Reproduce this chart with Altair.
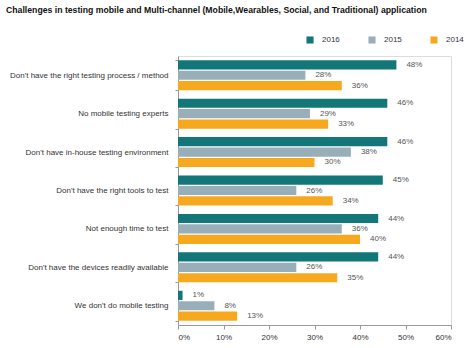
import altair as alt
import pandas as pd

categories = [
    "Don't have the right testing process / method",
    "No mobile testing experts",
    "Don't have in-house testing environment",
    "Don't have the right tools to test",
    "Not enough time to test",
    "Don't have the devices readily available",
    "We don't do mobile testing",
]
years = ["2016", "2015", "2014"]
v2016 = [48, 46, 46, 45, 44, 44, 1]
v2015 = [28, 29, 38, 26, 36, 26, 8]
v2014 = [36, 33, 30, 34, 40, 35, 13]
colors = ["#13777a", "#98afba", "#f6a91f"]

rows = []
for i, c in enumerate(categories):
    for y, vals in zip(years, [v2016, v2015, v2014]):
        rows.append({"cat": c, "year": y, "value": vals[i], "label": f"{vals[i]}%"})
df = pd.DataFrame(rows)

FONT = "Liberation Sans"

y_enc = alt.Y("cat:N", sort=categories, title=None,
              scale=alt.Scale(paddingInner=0.22, paddingOuter=0.11),
              axis=alt.Axis(tickBand="extent", domainColor="#999999", tickColor="#999999",
                            tickSize=3, labelPadding=7, labelFontSize=8, labelColor="#333333",
                            labelFont=FONT, labelLimit=220))
yoff = alt.YOffset("year:N", sort=years, scale=alt.Scale(paddingInner=0.12))

bars = alt.Chart(df).mark_bar().encode(
    x=alt.X("value:Q", scale=alt.Scale(domain=[0, 60]), title=None,
            axis=alt.Axis(values=[0, 10, 20, 30, 40, 50, 60], labelExpr="datum.value + '%'",
                          grid=False, domainColor="#999999", tickColor="#999999", tickSize=4,
                          labelFontSize=8, labelColor="#333333", labelFont=FONT, labelPadding=4)),
    y=y_enc,
    yOffset=yoff,
    color=alt.Color("year:N", sort=years, scale=alt.Scale(domain=years, range=colors),
                    legend=alt.Legend(title=None, orient="none", direction="horizontal",
                                      legendX=128, legendY=-20, symbolType="square",
                                      symbolSize=50, symbolStrokeWidth=0, symbolOpacity=1,
                                      labelFontSize=8, labelFont=FONT, labelColor="#333333",
                                      columnPadding=28, labelOffset=8)),
)

text = alt.Chart(df).mark_text(align="left", baseline="middle", dx=10, fontSize=8,
                               font=FONT, color="#555555").encode(
    x="value:Q",
    y=alt.Y("cat:N", sort=categories),
    yOffset=yoff,
    text="label:N",
)

chart = (bars + text).properties(
    width=273, height=269,
    padding={"left": 178, "top": 56, "right": 23, "bottom": 23},
    autosize=alt.AutoSizeParams(type="none"),
    title=alt.TitleParams(
        "Challenges in testing mobile and Multi-channel (Mobile,Wearables, Social, and Traditional) application",
        anchor="start", frame="group", dx=-172, offset=21, fontSize=8.7, fontWeight="bold",
        font=FONT, color="#111111"),
).configure_view(stroke=None).configure(background="white")

chart.save("out.html", embed_options={"renderer": "svg", "actions": False})
